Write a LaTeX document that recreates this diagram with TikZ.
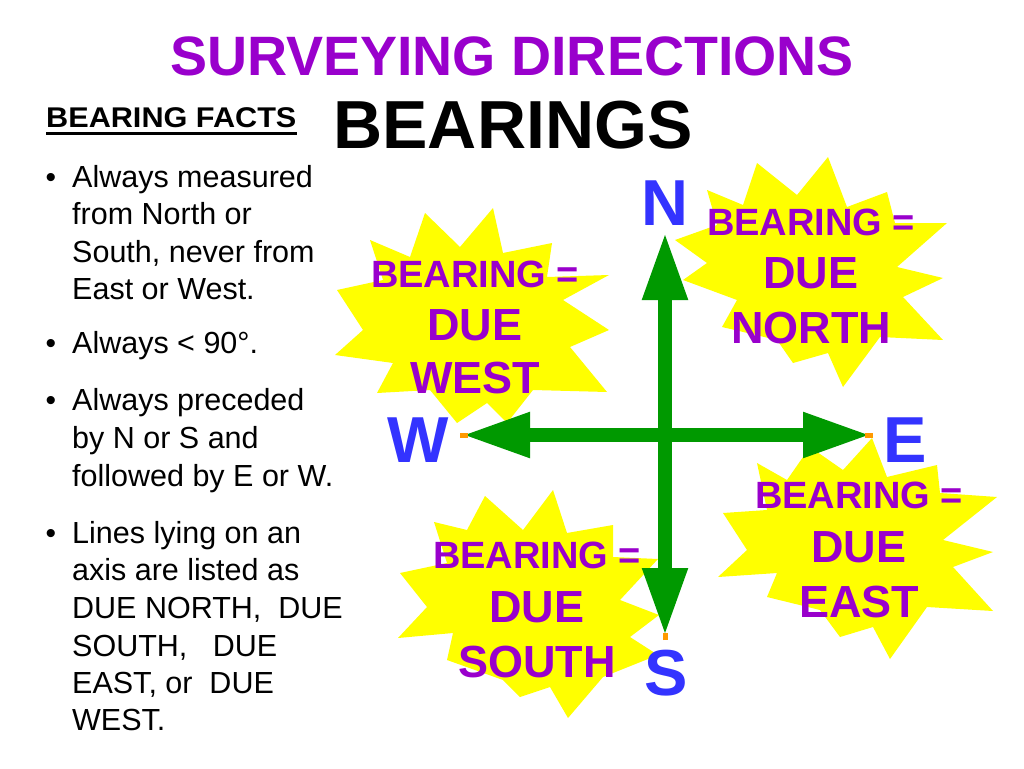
\documentclass[tikz,border=0pt]{standalone}
\usepackage{fontspec}
\setmainfont{Liberation Sans}
\usetikzlibrary{arrows.meta}
\definecolor{ttlpurple}{RGB}{153,0,204}
\definecolor{starpurple}{RGB}{153,0,204}
\definecolor{cblue}{RGB}{51,51,255}
\definecolor{cgreen}{RGB}{0,153,0}
\definecolor{cyellow}{RGB}{255,255,0}
\definecolor{corange}{RGB}{255,153,0}
\tikzset{
  burst/.style={fill=cyellow, draw=none},
  startxt/.style={anchor=base, inner sep=0pt, text=starpurple, font=\bfseries\fontsize{38}{40}\selectfont},
  starbig/.style={anchor=base, inner sep=0pt, text=starpurple, font=\bfseries\fontsize{45}{48}\selectfont},
  compass/.style={anchor=base, inner sep=0pt, text=cblue, font=\bfseries\fontsize{65}{70}\selectfont},
  bodytxt/.style={anchor=base west, inner sep=0pt, font=\fontsize{30.5}{36}\selectfont},
  bul/.style={anchor=base, inner sep=0pt, font=\fontsize{30}{32}\selectfont},
  axisline/.style={draw=cgreen, line width=14pt, {Triangle[length=68pt,width=42pt]}-{Triangle[length=68pt,width=42pt]}},
  tipmark/.style={draw=corange, line width=5pt},
}
\begin{document}
\begin{tikzpicture}[x=1pt,y=-1pt]
\useasboundingbox[fill=white] (0,0) rectangle (1024,768);

% titles
\node[anchor=base, inner sep=0pt, text=ttlpurple, font=\bfseries\fontsize{55.5}{60}\selectfont] (title) at (512,75) {SURVEYING DIRECTIONS};
\node[anchor=base, inner sep=0pt, font=\bfseries\fontsize{68}{72}\selectfont] (bearings) at (513,148) {BEARINGS};

% bearing facts heading
\node[anchor=base west, inner sep=0pt, font=\bfseries\fontsize{28.5}{32}\selectfont] (facts) at (46,127) {\scalebox{1.075}[1]{BEARING FACTS}};
\draw[line width=2.8pt] ([yshift=-6.5pt]facts.base west) -- ([yshift=-6.5pt]facts.base east);

% bullets
\node[bul] (b1) at (51,187) {•};
\node[bul] (b2) at (51,353) {•};
\node[bul] (b3) at (51,410) {•};
\node[bul] (b4) at (51,543) {•};

\node[bodytxt] (t11) at (72,187) {Always measured};
\node[bodytxt] (t12) at (72,224) {from North or};
\node[bodytxt] (t13) at (72,262) {South, never from};
\node[bodytxt] (t14) at (72,299) {East or West.};
\node[bodytxt] (t21) at (72,353) {Always < 90°.};
\node[bodytxt] (t31) at (72,410) {Always preceded};
\node[bodytxt] (t32) at (72,448) {by N or S and};
\node[bodytxt] (t33) at (72,486) {followed by E or W.};
\node[bodytxt] (t41) at (72,543) {Lines lying on an};
\node[bodytxt] (t42) at (72,580) {axis are listed as};
\node[bodytxt] (t43) at (72,618) {DUE NORTH,~~DUE};
\node[bodytxt] (t44) at (72,656) {SOUTH,~~~DUE};
\node[bodytxt] (t45) at (72,693) {EAST, or~~DUE};
\node[bodytxt] (t46) at (72,730) {WEST.};

% starbursts
\fill[burst] (707,190) -- (743,205) -- (757,163) -- (797,195) -- (828,157) -- (847,207) -- (887,192) -- (895,223) -- (947,223) -- (897,267) -- (943,278) -- (903,297) -- (943,340) -- (880,337) -- (843,387) -- (828,353) -- (793,363) -- (777,340) -- (722,327) -- (737,300) -- (683,280) -- (707,263) -- (675,240) -- (717,225) -- cycle;

\fill[burst] (370,240) -- (410,257) -- (425,213) -- (460,247) -- (493,208) -- (503,253) -- (552,243) -- (547,277) -- (609,275) -- (563,300) -- (609,330) -- (570,347) -- (607,392) -- (533,390) -- (507,423) -- (487,403) -- (457,423) -- (430,390) -- (377,393) -- (393,363) -- (335,355) -- (363,330) -- (337,290) -- (383,280) -- cycle;

\fill[burst] (757,463) -- (787,480) -- (810,447) -- (843,470) -- (872,438) -- (887,477) -- (937,465) -- (940,493) -- (997,497) -- (943,540) -- (993,552) -- (953,567) -- (993,611) -- (927,607) -- (890,659) -- (873,627) -- (840,637) -- (820,610) -- (767,597) -- (777,573) -- (718,577) -- (747,550) -- (723,513) -- (767,510) -- cycle;

\fill[burst] (434,522) -- (467,530) -- (485,496) -- (523,530) -- (553,490) -- (567,533) -- (613,525) -- (613,557) -- (658,559) -- (620,600) -- (659,615) -- (630,637) -- (658,655) -- (603,677) -- (568,718) -- (550,687) -- (520,697) -- (503,680) -- (447,660) -- (453,633) -- (398,638) -- (427,607) -- (400,573) -- (447,563) -- cycle;

% star texts
\node[startxt] (nb) at (811,235) {BEARING =};
\node[starbig] (nd) at (811,288) {DUE};
\node[starbig] (nn) at (811,343) {NORTH};

\node[startxt] (wb) at (475,287) {BEARING =};
\node[starbig] (wd) at (475,340) {DUE};
\node[starbig] (ww) at (475,393) {WEST};

\node[startxt] (eb) at (859,508) {BEARING =};
\node[starbig] (ed) at (859,562) {DUE};
\node[starbig] (ee) at (859,617) {EAST};

\node[startxt] (sb) at (537,568) {BEARING =};
\node[starbig] (sd) at (537,622) {DUE};
\node[starbig] (ss) at (537,677) {SOUTH};

% axes
\coordinate (ntip) at (665,232);
\coordinate (stip) at (665,636);
\coordinate (wtip) at (462,435);
\coordinate (etip) at (871,435);
\draw[axisline] (stip) -- (ntip);
\draw[axisline] (wtip) -- (etip);
\draw[tipmark] ([xshift=-2pt]wtip) -- ([xshift=6pt]wtip);
\draw[tipmark] ([xshift=2pt]etip) -- ([xshift=-6pt]etip);
\draw[tipmark] ([yshift=-4pt]stip) -- ([yshift=3pt]stip);

% compass letters
\node[compass] (N) at (665,225) {N};
\node[compass] (W) at (418,462) {W};
\node[compass] (E) at (905,462) {E};
\node[compass] (S) at (666,695) {S};
\end{tikzpicture}
\end{document}
